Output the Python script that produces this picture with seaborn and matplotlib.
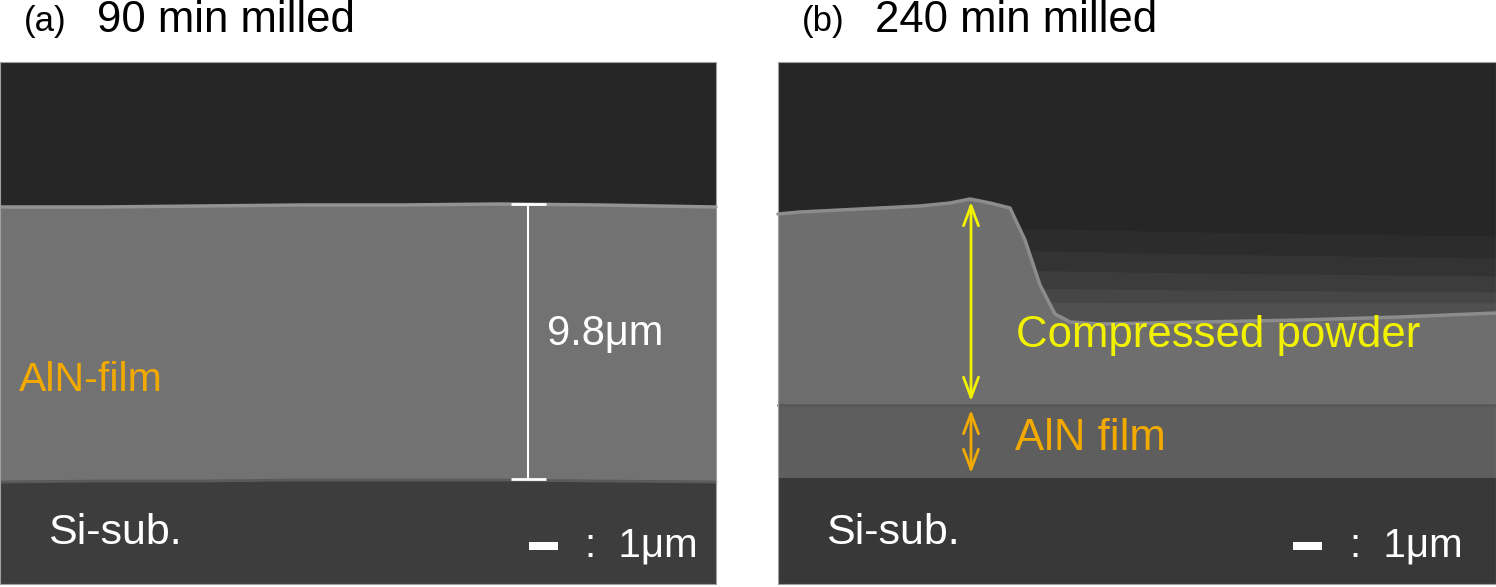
import matplotlib.pyplot as plt
import seaborn as sns

# layer profiles (pixel coords of the figure)
A_X = [0, 100, 200, 300, 400, 500, 600, 716]
A_FILM_TOP = [207, 207, 206, 205, 205, 204, 205, 207]
A_SUB_TOP = [482, 481, 481, 480, 480, 480, 481, 482]

B_X = [778, 800, 840, 880, 920, 950, 970, 990, 1010, 1025, 1040, 1055, 1070, 1100, 1200, 1300, 1400, 1496]
B_POWDER_TOP = [214, 212, 210, 208, 206, 203, 199, 203, 208, 240, 285, 314, 322, 324, 322, 320, 317, 313]
B_FILM_TOP = [405] * len(B_X)
B_SUB_TOP = [478] * len(B_X)

# upper edges of the bright haze behind the thin powder layer
HAZE_X = [1000, 1200, 1496]
HAZE_LEVELS = [[228, 232, 236], [250, 254, 258], [270, 273, 276], [288, 290, 292], [302, 303, 303]]
HAZE_COLORS = ["#2c2c2c", "#333333", "#3c3c3c", "#464646", "#505050"]

PANEL_TITLES = ["90 min milled", "240 min milled"]
PANEL_TAGS = ["(a)", "(b)"]
THICKNESS_LABEL = "9.8\u03bcm"
SCALE_LABEL = ":  1\u03bcm"

IMG_TOP, IMG_BOTTOM = 62, 584
DARK = "#262626"
YELLOW = "#f2f200"
ORANGE = "#f2a900"

sns.set_theme(style="white")
plt.rcParams["font.family"] = ["Liberation Sans", "DejaVu Sans"]

fig = plt.figure(figsize=(14.96, 5.87), dpi=100)
ax = fig.add_axes([0, 0, 1, 1])
ax.set_xlim(0, 1496)
ax.set_ylim(587, 0)
ax.axis("off")

# ---- panel (a)
ax.fill_between(A_X, IMG_TOP, A_FILM_TOP, color=DARK, lw=0)
ax.fill_between(A_X, A_FILM_TOP, A_SUB_TOP, color="#727272", lw=0)
ax.fill_between(A_X, A_SUB_TOP, IMG_BOTTOM, color="#3d3d3d", lw=0)
sns.lineplot(x=A_X, y=A_FILM_TOP, ax=ax, color="#939393", lw=2.5)
sns.lineplot(x=A_X, y=A_SUB_TOP, ax=ax, color="#5a5a5a", lw=2)

# thickness bar
ax.vlines(528, 204, 479, color="white", lw=1.5)
ax.hlines([204, 479], 511, 546, color="white", lw=2)

# ---- panel (b)
ax.fill_between(B_X, IMG_TOP, IMG_BOTTOM, color=DARK, lw=0)
for level, col in zip(HAZE_LEVELS, HAZE_COLORS):
    ax.fill_between(HAZE_X, level, IMG_BOTTOM, color=col, lw=0)
ax.fill_between(B_X, B_POWDER_TOP, B_FILM_TOP, color="#6e6e6e", lw=0)
ax.fill_between(B_X, B_FILM_TOP, B_SUB_TOP, color="#5e5e5e", lw=0)
ax.fill_between(B_X, B_SUB_TOP, IMG_BOTTOM, color="#383838", lw=0)
sns.lineplot(x=B_X, y=B_POWDER_TOP, ax=ax, color="#8c8c8c", lw=2.5)
sns.lineplot(x=B_X, y=B_FILM_TOP, ax=ax, color="#585858", lw=2)

ax.annotate("", xy=(971, 199), xytext=(971, 404),
            arrowprops=dict(arrowstyle="<->,head_length=1.2,head_width=0.45", color=YELLOW, lw=2))
ax.annotate("", xy=(971, 407), xytext=(971, 476),
            arrowprops=dict(arrowstyle="<->,head_length=1.2,head_width=0.45", color=ORANGE, lw=2))

# ---- texts
for x0, tag, title in zip([24, 802], PANEL_TAGS, PANEL_TITLES):
    ax.text(x0, 21, tag, fontsize=25, va="center", ha="left", color="black")
    ax.text(x0 + 73, 21, title, fontsize=31.5, va="center", ha="left", color="black")

ax.text(547, 334, THICKNESS_LABEL, fontsize=30, color="white", va="center")
ax.text(19, 380, "AlN-film", fontsize=29.5, color=ORANGE, va="center")
ax.text(1016, 336, "Compressed powder", fontsize=31.5, color=YELLOW, va="center")
ax.text(1015, 438, "AlN film", fontsize=31.5, color=ORANGE, va="center")

for sx, bar_x, scale_right in [(48, 529, 698), (826, 1293, 1463)]:
    ax.text(sx, 533, "Si-sub.", fontsize=31, color="white", va="center")
    ax.fill_between([bar_x, bar_x + 29], 542, 550, color="white", lw=0)
    ax.text(scale_right, 546, SCALE_LABEL, fontsize=29, color="white", va="center", ha="right")

# thin frame round each micrograph
for x0, x1 in [(0, 716), (778, 1496)]:
    ax.plot([x0, x1, x1, x0, x0], [IMG_TOP, IMG_TOP, IMG_BOTTOM, IMG_BOTTOM, IMG_TOP],
            color="#a0a0a0", lw=0.8)

fig.savefig("out.png", dpi=100)
